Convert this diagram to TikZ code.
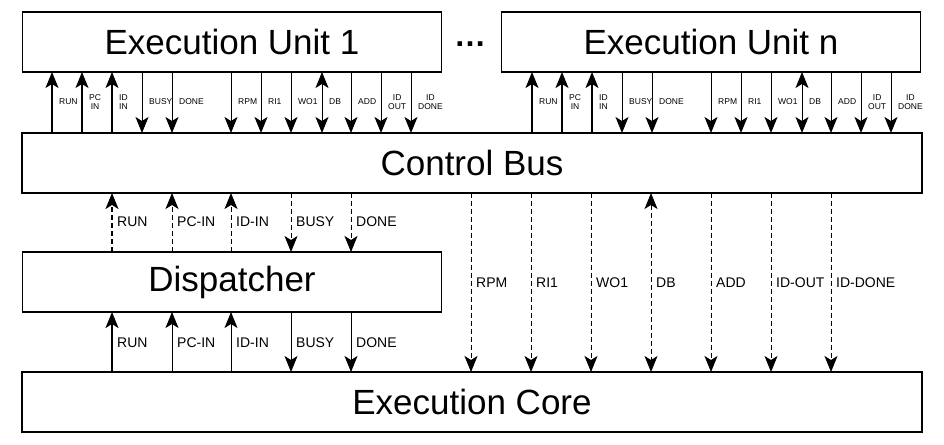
\documentclass[tikz,border=0pt]{standalone}
\usepackage{fontspec}
\setmainfont{Liberation Sans}
\usetikzlibrary{arrows.meta}
\begin{document}
\begin{tikzpicture}[x=1pt,y=-1pt,
  box/.style={draw,line width=1.2pt,inner sep=0pt},
  big/.style={font=\fontsize{35}{36}\selectfont},
  tip/.style={line width=1pt,-{Stealth[length=16pt,width=13pt,inset=4pt]}},
  dtip/.style={line width=1pt,{Stealth[length=16pt,width=13pt,inset=4pt]}-{Stealth[length=16pt,width=13pt,inset=4pt]}},
  sl/.style={font=\fontsize{8.5}{9}\selectfont,align=center,anchor=west,inner sep=0pt},
  ml/.style={font=\fontsize{14}{15}\selectfont,anchor=west,inner sep=0pt},
  dsh/.style={dash pattern=on 5pt off 3pt}]
\useasboundingbox (0,0) rectangle (944,444);
\node[box,minimum width=419,minimum height=60,big] (eu1) at (232,42) {Execution Unit 1};
\node[box,minimum width=419,minimum height=60,big] (eun) at (711,42) {Execution Unit n};
\node[font=\bfseries\fontsize{32}{33}\selectfont] (dots) at (470,44) {\dots};
\node[box,minimum width=900,minimum height=60,big] (cb) at (472,163) {Control Bus};
\node[box,minimum width=419,minimum height=60,big] (dp) at (232,282) {Dispatcher};
\node[box,minimum width=900,minimum height=60,big] (ec) at (472,402) {Execution Core};
% top arrows
\foreach \o/\u in {0/eu1,480/eun}{
  \foreach \x/\l/\d in {52/RUN/u,82/PC\\IN/u,112/ID\\IN/u,142/BUSY/d,172/DONE/d,231/RPM/d,261/RI1/d,291/WO1/d,322/DB/b,351/ADD/d,381/ID\\OUT/d,411/ID\\DONE/d}{
    \coordinate (t) at (\x+\o,72);
    \coordinate (b) at (\x+\o,133);
    \if u\d \draw[tip,line width=1.5pt] (b) -- (t);\fi
    \if d\d \draw[tip] (t) -- (b);\fi
    \if b\d \draw[dtip] (t) -- (b);\fi
    \node[sl] at (\x+\o+7,102) {\l};
  }
}
% dispatcher arrows
\foreach \x/\l/\d/\w in {112/RUN/u/2pt,172/PC-IN/u/1pt,231/ID-IN/u/1pt,291/BUSY/d/1pt,351/DONE/d/1pt}{
  \coordinate (p) at (\x,193); \coordinate (q) at (\x,252);
  \coordinate (r) at (\x,312); \coordinate (s) at (\x,372);
  \if u\d \draw[tip,dsh,line width=\w] (q) -- (p); \draw[tip,line width=\w] (s) -- (r);\fi
  \if d\d \draw[tip,dsh] (p) -- (q); \draw[tip] (r) -- (s);\fi
  \node[ml] at (\x+5,222) {\l};
  \node[ml] at (\x+5,343) {\l};
}
% right dashed
\foreach \x/\l/\d in {471/RPM/d,531/RI1/d,591/WO1/d,651/DB/b,711/ADD/d,771/ID-OUT/d,831/ID-DONE/d}{
  \coordinate (p) at (\x,193); \coordinate (s) at (\x,372);
  \if d\d \draw[tip,dsh] (p) -- (s);\fi
  \if b\d \draw[dtip,dsh] (p) -- (s);\fi
  \node[ml] at (\x+5,283) {\l};
}
\end{tikzpicture}
\end{document}
